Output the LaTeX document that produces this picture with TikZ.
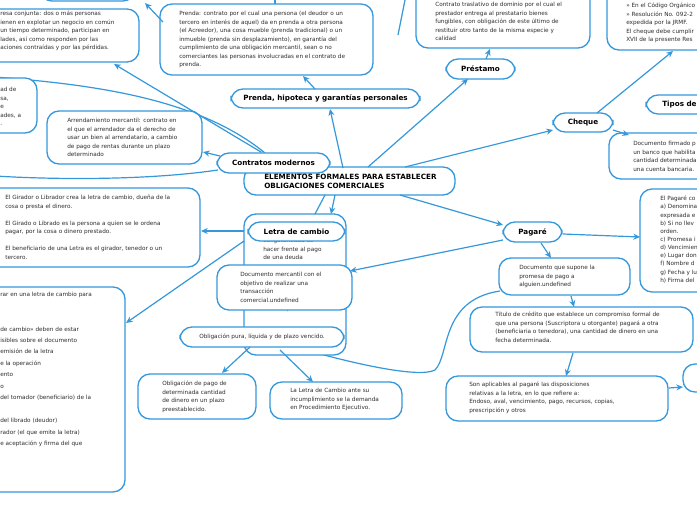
\documentclass[tikz,border=0pt]{standalone}
\usepackage{fontspec}
\setmainfont{DejaVu Sans}
\usetikzlibrary{fit,arrows.meta}
\definecolor{bc}{RGB}{52,152,219}
\definecolor{tc}{RGB}{45,45,45}
\tikzset{
 box/.style={draw=bc,line width=1pt,rounded corners=9pt,fill=white,inner sep=0pt},
 txt/.style={anchor=north west,inner sep=0pt,align=left,text=tc,font=\fontsize{4.3}{6.4}\selectfont},
 ttl/.style={inner sep=0pt,text=black,font=\fontsize{5.4}{6.7}\selectfont\bfseries},
 con/.style={draw=bc,line width=0.9pt},
 arr/.style={con,-{Stealth[length=5pt,width=4.5pt]}}
}
\begin{document}
\begin{tikzpicture}[x=0.75pt,y=-0.75pt]
\useasboundingbox (0,0) rectangle (697,520);
\clip (0,0) rectangle (697,520);
\fill[white] (0,0) rectangle (697,520);
% connectors first
\coordinate (lc1) at (-5,77);
\coordinate (lc2) at (-5,176);
\coordinate (topc) at (275,-5);
\coordinate (topd) at (406,-5);
\draw[con] (265,153) .. controls (200,100) and (100,85) .. (lc1);
\draw[con] (218,170) .. controls (150,180) and (60,180) .. (lc2);
\draw[con] (275,5) -- (topc);
\draw[con] (398,35) -- (topd);
\draw[con] (313,352) .. controls (360,365) and (420,378) .. (435,370) .. controls (450,355) and (440,300) .. (500,291);

% boxes
\node[box,fit={(40,-40)(135,1)}] (topbox) {};
\node[box,fit={(-20,9)(139,62)}] (empresa) {};
\node[box,fit={(-20,78)(37,133)}] (lbox) {};
\node[box,fit={(160,4)(373,75)}] (prenda) {};
\node[box,fit={(231,89)(420,108)}] (phg) {};
\node[box,fit={(416,-20)(590,48)}] (prest) {};
\node[box,fit={(446,59)(515,79)}] (prestamo) {};
\node[box,fit={(607,-20)(740,50)}] (chtop) {};
\node[box,fit={(646,95)(740,114)}] (tipos) {};
\node[box,fit={(553,113)(613,132)}] (cheque) {};
\node[box,fit={(609,133)(740,179)}] (chdesc) {};
\node[box,fit={(640,189)(740,292)}] (preq) {};
\node[box,fit={(47,111)(202,164)}] (arrend) {};
\node[box,fit={(244,167)(455,195)}] (central) {};
\node[box,fit={(217,153)(330,173)}] (contr) {};
\node[box,fit={(-20,188)(200,267)}] (girador) {};
\node[box,fit={(-20,287)(125,492)}] (requis) {};
\node[box,fit={(244,214)(346,355)}] (letrabig) {};
\node[box,fit={(503,222)(562,242)}] (pagare) {};
\node[box,fit={(499,258)(630,295)}] (supone) {};
\node[box,fit={(470,307)(693,352)}] (titulo) {};
\node[box,fit={(683,364)(740,392)}] (rsmall) {};
\node[box,fit={(446,376)(668,421)}] (son) {};
\node[box,fit={(138,374)(256,419)}] (oblpago) {};
\node[box,fit={(270,382)(402,419)}] (lalet) {};

% text behind in letra big
\node[txt] (lbt) at (263,238) {obligatoriedad de\\hacer frente al pago\\de una deuda\\\\\\\\propio deudor, la\\letra de cambio se\\redacta por el};
\node[box,fit={(217,265)(352,310)}] (docmerc) {};
\node[box,fit={(248,222)(345,241)}] (letra) {};
\node[box,fit={(180,327)(344,347)}] (oblpura) {};

% texts
\node[txt] (t1) at (0,11) {resa conjunta: dos o más personas\\ienen en explotar un negocio en común\\un tiempo determinado, participan en\\lades, así como responden por las\\aciones contraídas y por las pérdidas.};
\node[txt] (t2) at (0,87) {ad de\\sa,\\e\\ades, a\\.};
\node[txt] (t3) at (179,11) {Prenda: contrato por el cual una persona (el deudor o un\\tercero en interés de aquel) da en prenda a otra persona\\(el Acreedor), una cosa mueble (prenda tradicional) o un\\inmueble (prenda sin desplazamiento), en garantía del\\cumplimiento de una obligación mercantil, sean o no\\comerciantes las personas involucradas en el contrato de\\prenda.};
\node[ttl] at (phg.center) {Prenda, hipoteca y garantías personales};
\node[txt] (t4) at (435,2) {Contrato traslativo de dominio por el cual el\\prestador entrega al prestatario bienes\\fungibles, con obligación de este último de\\restituir otro tanto de la misma especie y\\calidad};
\node[ttl] at (prestamo.center) {Préstamo};
\node[txt] (t5) at (626,3) {» En el Código Orgánico\\» Resolución No. 092-2\\expedida por la JRMF.\\El cheque debe cumplir\\XVII de la presente Res};
\node[ttl,anchor=west] at (662,104.5) {Tipos de};
\node[ttl] at (cheque.center) {Cheque};
\node[txt] (t6) at (633,141) {Documento firmado p\\un banco que habilita\\cantidad determinada\\una cuenta bancaria.};
\node[txt,font=\fontsize{4.3}{6.1}\selectfont] (t7) at (660,196) {El Pagaré co\\a) Denomina\\expresada e\\b) Si no llev\\orden.\\c) Promesa i\\d) Vencimien\\e) Lugar don\\f) Nombre d\\g) Fecha y lu\\h) Firma del};
\node[txt] (t8) at (67,118) {Arrendamiento mercantil: contrato en\\el que el arrendador da el derecho de\\usar un bien al arrendatario, a cambio\\de pago de rentas durante un plazo\\determinado};
\node[ttl,anchor=north west,align=left] at (264,174) {ELEMENTOS FORMALES PARA ESTABLECER\\OBLIGACIONES COMERCIALES};
\node[ttl] at (contr.center) {Contratos modernos};
\node[txt] (t9) at (5,195) {El Girador o Librador crea la letra de cambio, dueña de la\\cosa o presta el dinero.\\\\El Girado o Librado es la persona a quien se le ordena\\pagar, por la cosa o dinero prestado.\\\\El beneficiario de una Letra es el girador, tenedor o un\\tercero.};
\node[txt,font=\fontsize{4.3}{8.6}\selectfont] (t10) at (0,292) {rar en una letra de cambio para\\\\\\de cambio» deben de estar\\isibles sobre el documento\\emisión de la letra\\e la operación\\ento\\o\\ del tomador (beneficiario) de la\\\\del librado (deudor)\\rador (el que emite la letra)\\e aceptación y firma del que};
\node[ttl] at (letra.center) {Letra de cambio};
\node[txt] (t11) at (240,272) {Documento mercantil con el\\objetivo de realizar una\\transacción\\comercial.undefined};
\node[txt,anchor=center] at (oblpura.center) {Obligación pura, líquida y de plazo vencido.};
\node[txt] (t12) at (162,381) {Obligación de pago de\\determinada cantidad\\de dinero en un plazo\\preestablecido.};
\node[txt] (t13) at (290,388) {La Letra de Cambio ante su\\incumplimiento se la demanda\\en Procedimiento Ejecutivo.};
\node[ttl] at (pagare.center) {Pagaré};
\node[txt] (t14) at (519,265) {Documento que supone la\\promesa de pago a\\alguien.undefined};
\node[txt] (t15) at (495,312) {Título de crédito que establece un compromiso formal de\\que una persona (Suscriptora u otorgante) pagará a otra\\(beneficiaria o tenedora), una cantidad de dinero en una\\fecha determinada.};
\node[txt] (t16) at (469,382) {Son aplicables al pagaré las disposiciones\\relativas a la letra, en lo que refiere a:\\Endoso, aval, vencimiento, pago, recursos, copias,\\prescripción y otros};

% arrows
\draw[arr] (contr.north) ++(-12,0) -- (114,64);
\draw[arr] (220,156) -- (203,152);
\draw[arr] (343,168) -- (330,109);
\draw[arr] (315,89) -- (303,76);
\draw[arr] (163,22) -- (145,3);
\draw[arr] (368,167) -- (468,79);
\draw[arr] (486,59) -- (490,49);
\draw[arr] (405,167) -- (553,130);
\draw[arr] (597,113) -- (673,51);
\draw[arr] (613,130) -- (629,135);
\draw[arr] (400,195) -- (503,225);
\draw[arr] (563,234) -- (640,237);
\draw[arr] (541,243) -- (551,258);
\draw[arr] (503,240) -- (350,271);
\draw[arr] (571,296) -- (574,307);
\draw[arr] (573,353) -- (566,376);
\draw[arr] (669,388) -- (683,387);
\draw[arr] (335,195) -- (331,214);
\draw[con] (325,195) -- (315,214);
\draw[arr] (244,231) -- (201,231);
\draw[arr] (244,241) -- (126,323);
\draw[arr] (250,347) -- (222,373);
\draw[arr] (280,350) -- (313,382);
\end{tikzpicture}
\end{document}
